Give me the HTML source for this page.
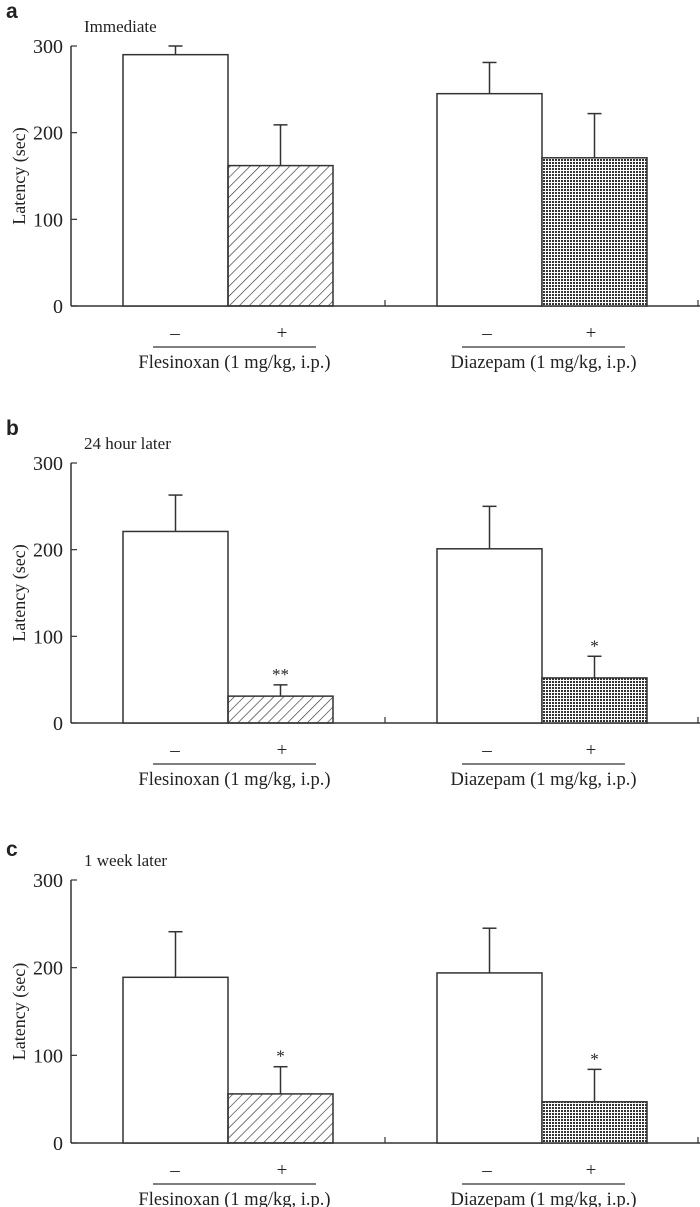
<!DOCTYPE html>
<html><head><meta charset="utf-8"><style>
html,body{margin:0;padding:0;background:#fff;}
svg{display:block;}
text{font-family:"Liberation Serif",serif;fill:#222;}
text.sans{font-family:"Liberation Sans",sans-serif;font-weight:bold;}
</style></head><body>
<svg id="fig" width="700" height="1207" viewBox="0 0 700 1207">
<defs>
<pattern id="hatch" width="7" height="7" patternUnits="userSpaceOnUse" patternTransform="rotate(45)">
<line x1="0" y1="0" x2="0" y2="7" stroke="#333" stroke-width="1.3"/>
</pattern>
<pattern id="dots" width="3" height="3" patternUnits="userSpaceOnUse">
<rect width="3" height="3" fill="#fff"/>
<rect width="2" height="2" fill="#333"/>
</pattern>
</defs>
</svg>
<script>
const panelLetters=['a','b','c'];
const panelTitles=['Immediate','24 hour later','1 week later'];
const groupLabels=['Flesinoxan (1 mg/kg, i.p.)','Diazepam (1 mg/kg, i.p.)'];
const yTicks=[0,100,200,300];
// values per panel: [flesinoxan -, flesinoxan +, diazepam -, diazepam +]
const meansA=[290,162,245,171];
const errA=[300,209,281,222];
const meansB=[221,31,201,52];
const errB=[263,44,250,77];
const meansC=[189,56,194,47];
const errC=[241,87,245,84];
const starsA=['','','',''];
const starsB=['','**','','*'];
const starsC=['','*','','*'];
const means=[meansA,meansB,meansC];
const errs=[errA,errB,errC];
const stars=[starsA,starsB,starsC];

const NS='http://www.w3.org/2000/svg';
const svg=document.getElementById('fig');
function mk(tag,attrs,parent){const e=document.createElementNS(NS,tag);for(const k in attrs)e.setAttribute(k,attrs[k]);(parent||svg).appendChild(e);return e;}
const panelTop=[46,463,880], panelBase=[306,723,1143];
const letterY=[18,435,856];
const barX=[123,228,437,542], barW=105;
const fills=['#fff','url(#hatch)','#fff','url(#dots)'];
const AX=71;
for(let p=0;p<3;p++){
  const g=mk('g',{});
  
  
  const base=panelBase[p], top=panelTop[p];
  const y=v=>base-(v/300)*(base-top);
  const L=mk('text',{x:6,y:letterY[p],class:'sans','font-size':21},g);L.textContent=panelLetters[p];
  
  
  const T=mk('text',{x:84,y:top-14,'font-size':17},g);T.textContent=panelTitles[p];
  
  
  const yt=mk('text',{x:0,y:0,'font-size':18,'text-anchor':'middle',transform:`translate(25,${(top+base)/2}) rotate(-90)`},g);yt.textContent='Latency (sec)';
  
  
  mk('line',{x1:AX,y1:y(300),x2:AX,y2:base,stroke:'#333','stroke-width':1.5},g);
  mk('line',{x1:AX,y1:base,x2:700,y2:base,stroke:'#333','stroke-width':1.5},g);
  mk('line',{x1:385,y1:base,x2:385,y2:base-6,stroke:'#333','stroke-width':1.2},g);
  mk('line',{x1:698,y1:base,x2:698,y2:base-6,stroke:'#333','stroke-width':1.2},g);
  yTicks.forEach(v=>{
    mk('line',{x1:AX,y1:y(v),x2:AX+6,y2:y(v),stroke:'#333','stroke-width':1.2},g);
    const t=mk('text',{x:AX-8,y:y(v)+7,'font-size':20,'text-anchor':'end'},g);t.textContent=v;
    
    
  });
  for(let i=0;i<4;i++){
    const cx=barX[i]+barW/2;
    const el=mk('line',{x1:cx,y1:y(means[p][i]),x2:cx,y2:y(errs[p][i]),stroke:'#333','stroke-width':1.5},g);
    
    
    mk('line',{x1:cx-7,y1:y(errs[p][i]),x2:cx+7,y2:y(errs[p][i]),stroke:'#333','stroke-width':1.5},g);
    const r=mk('rect',{x:barX[i],y:y(means[p][i]),width:barW,height:base-y(means[p][i]),fill:fills[i],stroke:'#333','stroke-width':1.5},g);
    
    
    if(stars[p][i]){
      const s=mk('text',{x:cx,y:y(errs[p][i])-5,'font-size':17,'text-anchor':'middle'},g);s.textContent=stars[p][i];
      
      
    }
  }
  const gx=[[153,316,175,282],[462,625,487,591]];
  for(let k=0;k<2;k++){
    const [a,b,m,pl]=gx[k];
    const ly=base+41;
    const t1=mk('text',{x:m,y:ly-8,'font-size':19,'text-anchor':'middle'},g);t1.textContent='–';
    
    
    const t2=mk('text',{x:pl,y:ly-8,'font-size':19,'text-anchor':'middle'},g);t2.textContent='+';
    
    
    mk('line',{x1:a,y1:ly,x2:b,y2:ly,stroke:'#333','stroke-width':1.2},g);
    const gl=mk('text',{x:(a+b)/2,y:ly+21,'font-size':18.5,'text-anchor':'middle'},g);gl.textContent=groupLabels[k];
    
    
  }
}
</script>
</body></html>
